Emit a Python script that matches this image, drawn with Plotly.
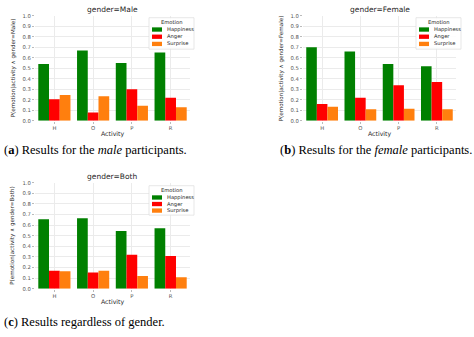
import plotly.graph_objects as go

W, H = 474, 337

activities = ["H", "O", "P", "R"]
emotions = ["Happiness", "Anger", "Surprise"]
colors = ["#008000", "#ff0000", "#ff7f0e"]

male_happiness = [0.54, 0.67, 0.55, 0.65]
male_anger = [0.205, 0.08, 0.30, 0.22]
male_surprise = [0.245, 0.235, 0.145, 0.13]

female_happiness = [0.70, 0.66, 0.54, 0.52]
female_anger = [0.16, 0.22, 0.34, 0.37]
female_surprise = [0.135, 0.11, 0.115, 0.11]

both_happiness = [0.655, 0.665, 0.545, 0.57]
both_anger = [0.17, 0.155, 0.32, 0.31]
both_surprise = [0.165, 0.17, 0.12, 0.11]

panels = [
    ("Male", [male_happiness, male_anger, male_surprise]),
    ("Female", [female_happiness, female_anger, female_surprise]),
    ("Both", [both_happiness, both_anger, both_surprise]),
]

# plot-area boxes in pixels: (left, right, top, bottom)
boxes = [(35, 190, 13, 120), (303, 456, 13, 120), (35, 190, 183, 291)]
# legend boxes in pixels: (left, top, width, height)
legend_boxes = [(149, 15, 45, 32), (416, 15, 45, 32), (149, 186, 45, 30)]

def px(x):
    return x / W

def py(y):
    return 1 - y / H

fig = go.Figure()
annotations = []
shapes = []
tickfont = dict(family="DejaVu Sans", size=5.3, color="#555555")
txtcol = "#262626"

for i, (gname, series) in enumerate(panels):
    suffix = "" if i == 0 else str(i + 1)
    xa = "x" + suffix
    ya = "y" + suffix
    for ename, vals, col in zip(emotions, series, colors):
        fig.add_trace(go.Bar(
            x=activities, y=vals, name=ename, marker_color=col,
            marker_line_width=0, xaxis=xa, yaxis=ya, showlegend=False,
        ))
    l, r, t, b = boxes[i]
    fig.layout["xaxis" + suffix] = dict(
        domain=[px(l), px(r)], anchor=ya, showgrid=True, gridcolor="#ebebeb",
        gridwidth=0.8, zeroline=False, showline=False, tickfont=tickfont,
        ticks="outside", ticklen=2, tickcolor="#bbbbbb", range=[-0.5, 3.5],
    )
    fig.layout["yaxis" + suffix] = dict(
        domain=[py(b), py(t)], anchor=xa, range=[0, 1.0], dtick=0.1,
        tickformat=".1f", showgrid=True, gridcolor="#ebebeb", gridwidth=0.8,
        zeroline=False, showline=False, tickfont=tickfont,
        ticks="outside", ticklen=2, tickcolor="#bbbbbb",
    )
    # subplot title
    annotations.append(dict(
        text=f"gender={gname}", x=px((l + r) / 2), y=py(t - 6), xref="paper",
        yref="paper", showarrow=False, xanchor="center", yanchor="middle",
        font=dict(family="DejaVu Sans", size=7.5, color=txtcol),
    ))
    # x axis title
    annotations.append(dict(
        text="Activity", x=px((l + r) / 2), y=py(b + 13), xref="paper",
        yref="paper", showarrow=False, xanchor="center", yanchor="middle",
        font=dict(family="DejaVu Sans", size=6.2, color=txtcol),
    ))
    # y axis title
    annotations.append(dict(
        text=f"P(emotion|activity \u2227 gender={gname})", x=px(l - 22),
        y=py((t + b) / 2), xref="paper", yref="paper", showarrow=False,
        xanchor="center", yanchor="middle", textangle=-90,
        font=dict(family="DejaVu Sans", size=5.6, color=txtcol),
    ))
    # custom legend
    bx, by, bw, bh = legend_boxes[i]
    shapes.append(dict(
        type="rect", xref="paper", yref="paper",
        x0=px(bx), x1=px(bx + bw), y0=py(by + bh), y1=py(by),
        line=dict(color="#dddddd", width=0.7), fillcolor="rgba(255,255,255,0.9)",
        layer="above",
    ))
    annotations.append(dict(
        text="Emotion", x=px(bx + bw / 2), y=py(by + 4), xref="paper",
        yref="paper", showarrow=False, xanchor="center", yanchor="middle",
        font=dict(family="DejaVu Sans", size=5.2, color=txtcol),
    ))
    step = (bh - 10) / 3.0
    for k, (ename, col) in enumerate(zip(emotions, colors)):
        cy = by + 12 + k * step
        shapes.append(dict(
            type="rect", xref="paper", yref="paper",
            x0=px(bx + 3), x1=px(bx + 13), y0=py(cy + 2.2), y1=py(cy - 2.2),
            line=dict(width=0), fillcolor=col, layer="above",
        ))
        annotations.append(dict(
            text=ename, x=px(bx + 16), y=py(cy), xref="paper", yref="paper",
            showarrow=False, xanchor="left", yanchor="middle",
            font=dict(family="DejaVu Sans", size=5.2, color=txtcol),
        ))

captions = [
    ("(<b>a</b>) Results for the <i>male</i> participants.", 2, 150, "left"),
    ("(<b>b</b>) Results for the <i>female</i> participants.", 474, 150, "right"),
    ("(<b>c</b>) Results regardless of gender.", 2, 325, "left"),
]
for text, cx, cy, anc in captions:
    annotations.append(dict(
        text=text, x=px(cx), y=py(cy), xref="paper", yref="paper",
        showarrow=False, xanchor=anc, yanchor="middle",
        font=dict(family="Liberation Serif", size=12.5, color="#000000"),
    ))

fig.update_layout(
    width=W, height=H, margin=dict(l=0, r=0, t=0, b=0),
    paper_bgcolor="white", plot_bgcolor="white",
    barmode="group", bargap=0.17, bargroupgap=0,
    annotations=annotations, shapes=shapes, showlegend=False,
)

fig.write_html("out.html")
